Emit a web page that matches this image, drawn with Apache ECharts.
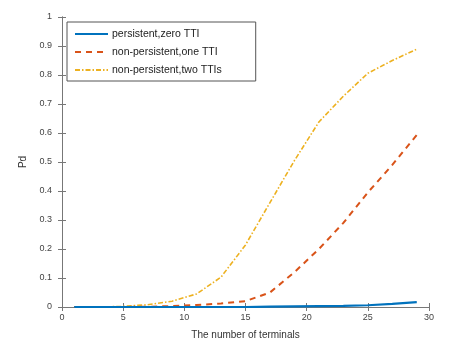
<!DOCTYPE html>
<html><head><meta charset="utf-8">
<script src="https://cdn.jsdelivr.net/npm/echarts@6/dist/echarts.min.js"></script>
<style>html,body{margin:0;padding:0;background:#fff}#c{width:474px;height:346px}</style>
</head><body><div id="c"></div>
<script>
const xValues = [1, 3, 5, 7, 9, 11, 13, 15, 17, 19, 21, 23, 25, 27, 29];
const persistentZero = [0, 0, 0, 0, 0, 0, 0, 0, 0.001, 0.002, 0.003, 0.004, 0.006, 0.011, 0.017];
const nonPersistentOne = [0, 0, 0, 0.001, 0.003, 0.007, 0.012, 0.02, 0.05, 0.12, 0.2, 0.29, 0.395, 0.49, 0.593];
const nonPersistentTwo = [0, 0, 0.002, 0.008, 0.02, 0.045, 0.103, 0.214, 0.36, 0.505, 0.638, 0.727, 0.806, 0.85, 0.889];
const seriesNames = ['persistent,zero TTI', 'non-persistent,one TTI', 'non-persistent,two TTIs'];
const xTicks = [0, 5, 10, 15, 20, 25, 30];
const yTicks = [0, 0.1, 0.2, 0.3, 0.4, 0.5, 0.6, 0.7, 0.8, 0.9, 1];

const pairs = arr => xValues.map((x, i) => [x, arr[i]]);
const axisColor = '#777';
const font = 'Liberation Sans, Arial, sans-serif';
const baseAxis = {
  axisLine: { show: true, lineStyle: { color: axisColor, width: 1 } },
  axisTick: { show: true, inside: true, length: 4, lineStyle: { color: axisColor } },
  splitLine: { show: false }
};
const chart = echarts.init(document.getElementById('c'));
chart.setOption({
  animation: false,
  backgroundColor: '#fff',
  grid: { left: 62, right: 45, top: 17, bottom: 39, containLabel: false },
  legend: {
    left: 67, top: 22, orient: 'vertical',
    backgroundColor: '#fff', borderColor: '#555', borderWidth: 1,
    padding: [5, 34, 4, 7], itemGap: 4, itemWidth: 33, itemHeight: 14,
    itemStyle: { opacity: 0 },
    textStyle: { fontFamily: font, fontSize: 10.5, color: '#222', padding: [0, 0, 0, -1], lineHeight: 14 },
    data: seriesNames
  },
  xAxis: [
    Object.assign({}, baseAxis, {
      type: 'value', min: 0, max: 30, interval: 5, position: 'bottom',
      name: 'The number of terminals', nameLocation: 'middle', nameGap: 23,
      nameTextStyle: { fontFamily: font, fontSize: 10, color: '#333' },
      axisLabel: { fontFamily: font, fontSize: 9, color: '#444', margin: 6,
        formatter: v => xTicks.includes(v) ? String(v) : '' }
    }),
    Object.assign({}, baseAxis, {
      type: 'value', min: 0, max: 30, interval: 5, position: 'top',
      axisLabel: { show: false }
    })
  ],
  yAxis: [
    Object.assign({}, baseAxis, {
      type: 'value', min: 0, max: 1, interval: 0.1, position: 'left',
      name: 'Pd', nameLocation: 'middle', nameGap: 27, nameRotate: 90,
      nameTextStyle: { fontFamily: font, fontSize: 10, color: '#333' },
      axisLabel: { fontFamily: font, fontSize: 9, color: '#444', margin: 10,
        formatter: v => { const t = yTicks.find(k => Math.abs(k - v) < 1e-9); return t === undefined ? '' : String(t); } }
    }),
    Object.assign({}, baseAxis, {
      type: 'value', min: 0, max: 1, interval: 0.1, position: 'right',
      axisLabel: { show: false }
    })
  ],
  series: [
    { name: seriesNames[0], type: 'line', data: pairs(persistentZero), symbol: 'none', z: 5,
      lineStyle: { color: '#0072BD', width: 2.2 }, itemStyle: { color: '#0072BD' } },
    { name: seriesNames[1], type: 'line', data: pairs(nonPersistentOne), symbol: 'none', z: 4,
      lineStyle: { color: '#D95319', width: 2, type: [6, 5] }, itemStyle: { color: '#D95319' } },
    { name: seriesNames[2], type: 'line', data: pairs(nonPersistentTwo), symbol: 'none', z: 3,
      lineStyle: { color: '#EDB120', width: 1.6, type: [5, 2, 1.5, 2] }, itemStyle: { color: '#EDB120' } }
  ]
});
</script></body></html>
